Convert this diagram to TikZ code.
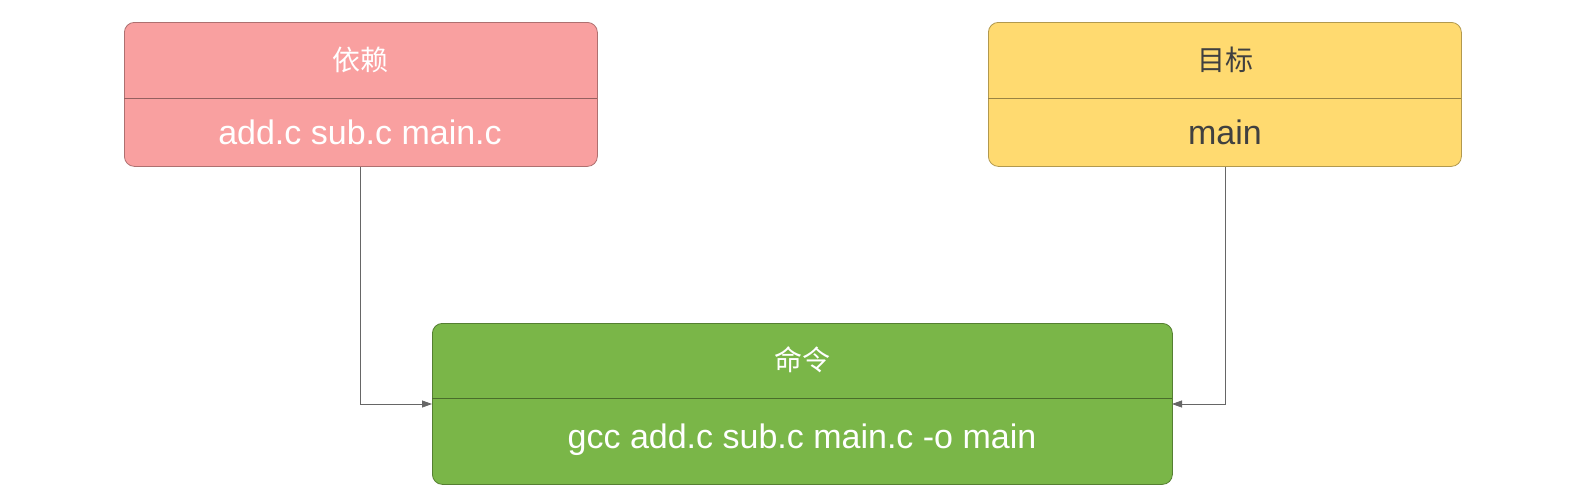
\documentclass[tikz,border=0pt]{standalone}
\usepackage{fontspec}
\setmainfont{Liberation Sans}
\newfontfamily\cjk{Noto Sans CJK SC}
\usetikzlibrary{arrows.meta}
\definecolor{cred}{HTML}{F9A0A0}
\definecolor{cyel}{HTML}{FFDA70}
\definecolor{cgrn}{HTML}{7AB648}
\tikzset{
  box/.style={draw=#1!70!black, line width=0.8pt, rounded corners=10pt, anchor=north west, inner sep=0pt},
  div/.style={draw=#1!60!black, line width=0.8pt},
  lbl/.style={font=\fontsize{34}{40}\selectfont, inner sep=0pt},
  hdr/.style={font=\cjk\fontsize{28}{34}\selectfont, inner sep=0pt},
  conn/.style={draw=black!60, line width=0.8pt, -{Triangle[length=10pt,width=7pt]}}
}
\begin{document}
\begin{tikzpicture}[x=1pt,y=-1pt]
\useasboundingbox (0,0) rectangle (1588,498);
% red
\node[box=cred, fill=cred, minimum width=473pt, minimum height=144pt] (dep) at (124,22) {};
\draw[div=cred] (124,98) -- (597,98);
\node[hdr, text=white] (deph) at (360,60) {依赖};
\node[lbl, text=white] (depb) at (360,132) {add.c sub.c main.c};
% yellow
\node[box=cyel, fill=cyel, minimum width=473pt, minimum height=144pt] (tgt) at (988,22) {};
\draw[div=cyel] (988,98) -- (1461,98);
\node[hdr, text=black!75] (tgth) at (1225,60) {目标};
\node[lbl, text=black!75] (tgtb) at (1225,132) {main};
% green
\node[box=cgrn, fill=cgrn, minimum width=740pt, minimum height=161pt] (cmd) at (432,323) {};
\draw[div=cgrn] (432,398) -- (1172,398);
\node[hdr, text=white] (cmdh) at (802,360) {命令};
\node[lbl, text=white] (cmdb) at (802,440) {gcc add.c sub.c main.c -o main};
% connectors
\coordinate (lin) at (432,404);
\coordinate (rin) at (1172,404);
\draw[conn] (dep.south -| 360,0) |- (lin);
\draw[conn] (tgt.south -| 1225,0) |- (rin);
\end{tikzpicture}
\end{document}
